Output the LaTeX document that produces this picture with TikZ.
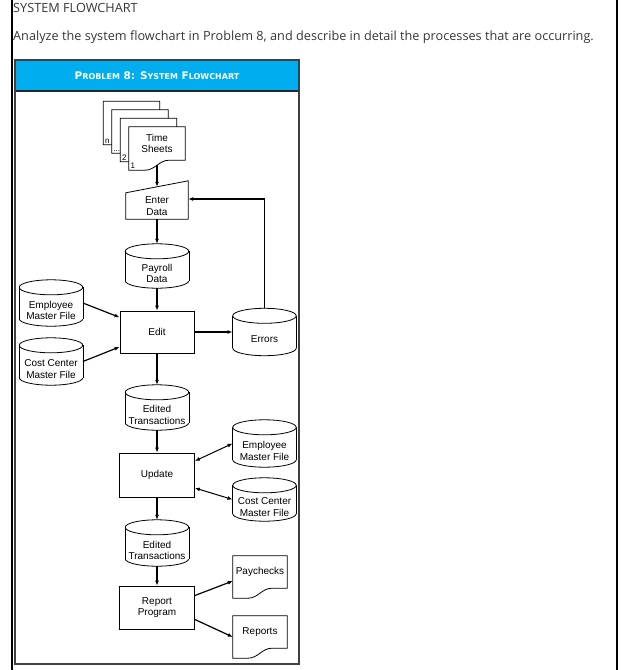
\documentclass[tikz,border=0pt]{standalone}
\usepackage{fontspec}
\setmainfont{Liberation Sans}
\newfontfamily\pagefont{Open Sans}
\newfontfamily\headfont{DejaVu Sans}
\usepackage{tikz}
\usetikzlibrary{arrows.meta}
\usetikzlibrary{backgrounds}
\definecolor{headblue}{RGB}{0,174,239}
\definecolor{pagegray}{RGB}{55,55,55}
\newcommand{\smallcap}[2]{#1{\fontsize{8}{8}\selectfont #2}}
\newcommand{\sheetline}[1]{\filldraw[fill=white, line width=0.8pt] (#1.north west) to (#1.north east) to (#1.south east) to ([xshift=12pt]#1.south) .. controls ([xshift=2pt]#1.south) and ([xshift=-2pt, yshift=-10pt]#1.south) .. ([xshift=-12pt, yshift=-10pt]#1.south) to ([yshift=-10pt]#1.south west) -- cycle;}
\newcommand{\diskline}[1]{%
	\filldraw[fill=white, line width=0.8pt] ([yshift=7.5pt]#1.south) ellipse [x radius=31.75pt, y radius=7.5pt];
	\fill[white] ([yshift=-7.5pt]#1.north west) rectangle ([yshift=7.5pt]#1.south east);
	\draw[line width=0.8pt] ([yshift=-7.5pt]#1.north west) to ([yshift=7.5pt]#1.south west) ([yshift=-7.5pt]#1.north east) to ([yshift=7.5pt]#1.south east);
	\filldraw[fill=white, line width=0.8pt] ([yshift=-7.5pt]#1.north) ellipse [x radius=31.75pt, y radius=7.5pt];}

\begin{document}
\begin{tikzpicture}[x=1pt, y=-1pt, font=\fontsize{10}{11.5}\selectfont,
		box/.style={draw, line width=0.8pt, minimum width=75pt, minimum height=43pt, align=center},
		disk/.style={minimum width=63.5pt, minimum height=46pt, inner sep=0pt},
		disktext/.style={align=center, inner sep=1pt, yshift=-7.5pt},
		sheet/.style={minimum width=56pt, minimum height=33pt, align=center, inner sep=1pt},
		tag/.style={anchor=south west, inner sep=1.5pt, font=\fontsize{8}{9}\selectfont},
		flow/.style={line width=1.2pt, -{Latex[length=5pt, width=4pt]}},
		both/.style={line width=1pt, {Latex[length=5pt, width=4pt]}-{Latex[length=5pt, width=4pt]}}]
	\useasboundingbox (0, 0) rectangle (621, 670);
	% page
	\draw[line width=2.5pt] (12, 0) to (12, 670);
	\draw[line width=2pt] (617, 0) to (617, 670);
	\node[anchor=west, inner sep=1pt, text=pagegray, font=\pagefont\fontsize{12.7}{14}\selectfont] (title) at (12, 8) {SYSTEM FLOWCHART};
	\node[anchor=west, inner sep=1pt, text=pagegray, font=\pagefont\fontsize{12.7}{14}\selectfont] (task) at (12, 37) {Analyze the system flowchart in Problem 8, and describe in detail the processes that are occurring.};
	% frame
	\fill[headblue] (15, 60) rectangle (299, 91);
	\draw[line width=1.5pt, black!85] (15, 91) to (299, 91);
	\draw[line width=1.2pt, black!75] (15, 60) rectangle (299, 664);
	\node[text=white, font=\headfont\bfseries\fontsize{10.5}{11}\selectfont] (head) at (157, 76) {\smallcap{P}{ROBLEM} 8: \smallcap{S}{YSTEM} \smallcap{F}{LOWCHART}};
	% time sheets
	\node[sheet] (ts) at (157, 143.5) {Time\\Sheets};
	\node[sheet] (ts2) at ([xshift=-8.5pt, yshift=8.5pt]ts) {};
	\node[sheet] (ts3) at ([xshift=-17pt, yshift=17pt]ts) {};
	\node[sheet] (tsn) at ([xshift=-25.5pt, yshift=25.5pt]ts) {};
	\node[tag] (tagn) at ([yshift=-10pt]tsn.south west) {n};
	\node[tag] (tag3) at ([yshift=-10pt]ts3.south west) {...};
	\node[tag] (tag2) at ([yshift=-10pt]ts2.south west) {2};
	\node[tag] (tag1) at ([yshift=-10pt]ts.south west) {1};
	% enter data
	\node[minimum width=62pt, minimum height=26pt, align=center] (enter) at (157, 206) {Enter\\Data};
	\draw[line width=0.8pt] (enter.north west) to ([yshift=12pt]enter.north east) to (enter.south east) to (enter.south west) -- cycle;
	% storage and processes
	\node[disk, minimum height=44pt, label={[disktext]center:{Payroll\\Data}}] (pay) at (157, 266) {};
	\node[box, minimum width=74pt, minimum height=42pt] (edit) at (157, 332) {Edit};
	\node[disk, label={[disktext]center:{Employee\\Master File}}] (emf) at (51, 303) {};
	\node[disk, minimum height=47pt, label={[disktext]center:{Cost Center\\Master File}}] (ccmf) at (51, 361.5) {};
	\node[disk, minimum height=47pt, label={[disktext]center:{Errors}}] (err) at (264.5, 332) {};
	\node[disk, minimum height=45pt, label={[disktext]center:{Edited\\Transactions}}] (et1) at (157, 407.5) {};
	\node[box, minimum height=44pt] (upd) at (157, 475) {Update};
	\node[disk, minimum height=47pt, label={[disktext]center:{Employee\\Master File}}] (emf2) at (264.5, 443.5) {};
	\node[disk, minimum height=43pt, label={[disktext]center:{Cost Center\\Master File}}] (ccmf2) at (264.5, 499.5) {};
	\node[disk, minimum height=46pt, label={[disktext]center:{Edited\\Transactions}}] (et2) at (157, 543) {};
	\node[box] (rp) at (157, 607.5) {Report\\Program};
	\node[sheet, minimum width=54pt, minimum height=32pt] (pc) at (260, 572) {Paychecks};
	\node[sheet, minimum width=54pt, minimum height=32pt] (rep) at (260, 632) {Reports};
	\begin{pgfonlayer}{background}
		\sheetline{tsn}
		\sheetline{ts3}
		\sheetline{ts2}
		\sheetline{ts}
		\sheetline{pc}
		\sheetline{rep}
		\diskline{pay}
		\diskline{emf}
		\diskline{ccmf}
		\diskline{err}
		\diskline{et1}
		\diskline{emf2}
		\diskline{ccmf2}
		\diskline{et2}
	\end{pgfonlayer}
	% flows
	\draw[flow] ([yshift=-5pt]ts.south) to ([yshift=6pt]enter.north);
	\draw[flow] (enter) to (pay);
	\draw[flow] (pay) to (edit);
	\draw[flow] (emf.east) to (edit);
	\draw[flow] (ccmf.east) to (edit);
	\draw[flow] (edit) to (err);
	\draw[flow] (err.north) |- ([yshift=7pt]enter.east);
	\draw[flow] (edit) to (et1);
	\draw[flow] (et1) to (upd);
	\draw[both] ([yshift=14pt]upd.east) to (emf2.west);
	\draw[both] ([yshift=-13pt]upd.east) to (ccmf2.west);
	\draw[flow] (upd) to (et2);
	\draw[flow] (et2) to (rp);
	\draw[flow] ([yshift=12pt]rp.east) to ([yshift=-9pt]pc.west);
	\draw[flow] ([yshift=-12pt]rp.east) to ([yshift=-5pt]rep.west);
\end{tikzpicture}
\end{document}
